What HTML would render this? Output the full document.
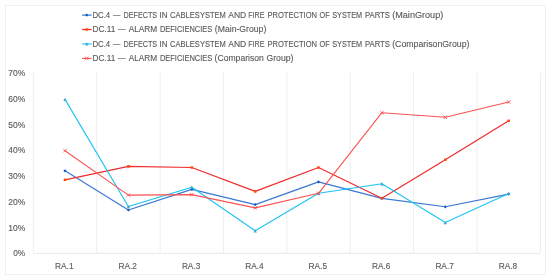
<!DOCTYPE html>
<html lang="en"><head><meta charset="utf-8"><title>Chart</title>
<style>
html,body{margin:0;padding:0;background:#fff;}
body{width:550px;height:279px;overflow:hidden;}
svg{display:block;}
text{font-family:"Liberation Sans",Arial,sans-serif;fill:#595959;stroke:#595959;stroke-width:0.12px;}
</style></head><body>
<svg width="550" height="279" viewBox="0 0 550 279">
<rect x="0" y="0" width="550" height="279" fill="#ffffff"/>
<rect x="5.5" y="5.5" width="540" height="269" fill="none" stroke="#F0F0F0" stroke-width="1"/>

<g stroke="#EEEEEE" stroke-width="1" fill="none">
<line x1="33.3" y1="72.4" x2="33.3" y2="253.4"/>
<line x1="96.7" y1="72.4" x2="96.7" y2="253.4"/>
<line x1="160.1" y1="72.4" x2="160.1" y2="253.4"/>
<line x1="223.5" y1="72.4" x2="223.5" y2="253.4"/>
<line x1="286.8" y1="72.4" x2="286.8" y2="253.4"/>
<line x1="350.2" y1="72.4" x2="350.2" y2="253.4"/>
<line x1="413.6" y1="72.4" x2="413.6" y2="253.4"/>
<line x1="477.0" y1="72.4" x2="477.0" y2="253.4"/>
<line x1="540.4" y1="72.4" x2="540.4" y2="253.4"/>
<line x1="33.3" y1="253.4" x2="540.4" y2="253.4" stroke="#EAEAEA"/>
</g>
<g font-size="8.9" text-anchor="end">
<text x="25.2" y="256" textLength="12.0" lengthAdjust="spacingAndGlyphs">0%</text>
<text x="25.2" y="231" textLength="17.0" lengthAdjust="spacingAndGlyphs">10%</text>
<text x="25.2" y="205" textLength="17.0" lengthAdjust="spacingAndGlyphs">20%</text>
<text x="25.2" y="179" textLength="17.0" lengthAdjust="spacingAndGlyphs">30%</text>
<text x="25.2" y="153" textLength="17.0" lengthAdjust="spacingAndGlyphs">40%</text>
<text x="25.2" y="128" textLength="17.0" lengthAdjust="spacingAndGlyphs">50%</text>
<text x="25.2" y="102" textLength="17.0" lengthAdjust="spacingAndGlyphs">60%</text>
<text x="25.2" y="76" textLength="17.0" lengthAdjust="spacingAndGlyphs">70%</text>
</g>
<g font-size="8.9" text-anchor="middle">
<text x="64.3" y="269" textLength="18.4" lengthAdjust="spacingAndGlyphs">RA.1</text>
<text x="127.7" y="269" textLength="18.4" lengthAdjust="spacingAndGlyphs">RA.2</text>
<text x="191.1" y="269" textLength="18.4" lengthAdjust="spacingAndGlyphs">RA.3</text>
<text x="254.5" y="269" textLength="18.4" lengthAdjust="spacingAndGlyphs">RA.4</text>
<text x="317.8" y="269" textLength="18.4" lengthAdjust="spacingAndGlyphs">RA.5</text>
<text x="381.2" y="269" textLength="18.4" lengthAdjust="spacingAndGlyphs">RA.6</text>
<text x="444.6" y="269" textLength="18.4" lengthAdjust="spacingAndGlyphs">RA.7</text>
<text x="508.0" y="269" textLength="18.4" lengthAdjust="spacingAndGlyphs">RA.8</text>
</g>
<polyline points="65.0,170.8 128.4,210.0 191.8,189.4 255.2,204.6 318.5,181.9 381.9,198.4 445.3,206.8 508.7,194.1" fill="none" stroke="#3A78D2" stroke-width="1.15" stroke-linejoin="round" stroke-linecap="round"/>
<polyline points="65.0,179.8 128.4,166.4 191.8,167.5 255.2,191.4 318.5,167.5 381.9,198.3 445.3,159.8 508.7,120.8" fill="none" stroke="#EE2C2C" stroke-width="1.25" stroke-linejoin="round" stroke-linecap="round"/>
<polyline points="65.0,99.4 128.4,206.5 191.8,187.2 255.2,230.7 318.5,193.3 381.9,183.7 445.3,222.6 508.7,193.4" fill="none" stroke="#1CC4F5" stroke-width="1.15" stroke-linejoin="round" stroke-linecap="round"/>
<polyline points="65.0,150.7 128.4,195.1 191.8,194.6 255.2,207.9 318.5,193.3 381.9,112.7 445.3,117.3 508.7,102.0" fill="none" stroke="#FB5252" stroke-width="1.1" stroke-linejoin="round" stroke-linecap="round"/>
<path d="M65.0 169.2L66.6 170.8L65.0 172.4L63.4 170.8Z" fill="#1259CC"/>
<path d="M128.4 208.4L130.0 210.0L128.4 211.6L126.8 210.0Z" fill="#1259CC"/>
<path d="M191.8 187.8L193.4 189.4L191.8 191.0L190.2 189.4Z" fill="#1259CC"/>
<path d="M255.2 203.0L256.8 204.6L255.2 206.2L253.6 204.6Z" fill="#1259CC"/>
<path d="M318.5 180.3L320.1 181.9L318.5 183.5L316.9 181.9Z" fill="#1259CC"/>
<path d="M381.9 196.8L383.5 198.4L381.9 200.0L380.3 198.4Z" fill="#1259CC"/>
<path d="M445.3 205.2L446.9 206.8L445.3 208.4L443.7 206.8Z" fill="#1259CC"/>
<path d="M508.7 192.5L510.3 194.1L508.7 195.7L507.1 194.1Z" fill="#1259CC"/>
<rect x="63.7" y="178.5" width="2.6" height="2.6" rx="0.5" fill="#FF4A10"/>
<rect x="127.1" y="165.1" width="2.6" height="2.6" rx="0.5" fill="#FF4A10"/>
<rect x="190.5" y="166.2" width="2.6" height="2.6" rx="0.5" fill="#FF4A10"/>
<rect x="253.9" y="190.1" width="2.6" height="2.6" rx="0.5" fill="#FF4A10"/>
<rect x="317.2" y="166.2" width="2.6" height="2.6" rx="0.5" fill="#FF4A10"/>
<rect x="380.6" y="197.0" width="2.6" height="2.6" rx="0.5" fill="#FF4A10"/>
<rect x="444.0" y="158.5" width="2.6" height="2.6" rx="0.5" fill="#FF4A10"/>
<rect x="507.4" y="119.5" width="2.6" height="2.6" rx="0.5" fill="#FF4A10"/>
<path d="M65.0 97.7L66.7 101.1L63.3 101.1Z" fill="#3FA9CF"/>
<path d="M128.4 204.8L130.1 208.2L126.7 208.2Z" fill="#3FA9CF"/>
<path d="M191.8 185.5L193.5 188.9L190.1 188.9Z" fill="#3FA9CF"/>
<path d="M255.2 229.0L256.9 232.4L253.5 232.4Z" fill="#3FA9CF"/>
<path d="M318.5 191.6L320.2 195.0L316.8 195.0Z" fill="#3FA9CF"/>
<path d="M381.9 182.0L383.6 185.4L380.2 185.4Z" fill="#3FA9CF"/>
<path d="M445.3 220.9L447.0 224.3L443.6 224.3Z" fill="#3FA9CF"/>
<path d="M508.7 191.7L510.4 195.1L507.0 195.1Z" fill="#3FA9CF"/>
<path d="M63.3 149.0L66.7 152.4M63.3 152.4L66.7 149.0" stroke="#FB5252" stroke-width="0.9" fill="none"/>
<path d="M126.7 193.4L130.1 196.8M126.7 196.8L130.1 193.4" stroke="#FB5252" stroke-width="0.9" fill="none"/>
<path d="M190.1 192.9L193.5 196.3M190.1 196.3L193.5 192.9" stroke="#FB5252" stroke-width="0.9" fill="none"/>
<path d="M253.5 206.2L256.9 209.6M253.5 209.6L256.9 206.2" stroke="#FB5252" stroke-width="0.9" fill="none"/>
<path d="M316.8 191.6L320.2 195.0M316.8 195.0L320.2 191.6" stroke="#FB5252" stroke-width="0.9" fill="none"/>
<path d="M380.2 111.0L383.6 114.4M380.2 114.4L383.6 111.0" stroke="#FB5252" stroke-width="0.9" fill="none"/>
<path d="M443.6 115.6L447.0 119.0M443.6 119.0L447.0 115.6" stroke="#FB5252" stroke-width="0.9" fill="none"/>
<path d="M507.0 100.3L510.4 103.7M507.0 103.7L510.4 100.3" stroke="#FB5252" stroke-width="0.9" fill="none"/>
<line x1="82" y1="15.1" x2="91.6" y2="15.1" stroke="#3A78D2" stroke-width="1.2"/>
<line x1="82" y1="29.5" x2="91.6" y2="29.5" stroke="#EE2C2C" stroke-width="1.25"/>
<line x1="82" y1="43.9" x2="91.6" y2="43.9" stroke="#1CC4F5" stroke-width="1.15"/>
<line x1="82" y1="58.4" x2="91.6" y2="58.4" stroke="#FB5252" stroke-width="1.1"/>
<path d="M86.8 13.5L88.4 15.1L86.8 16.7L85.2 15.1Z" fill="#1259CC"/>
<rect x="85.5" y="28.2" width="2.6" height="2.6" rx="0.5" fill="#FF4A10"/>
<path d="M86.8 42.2L88.5 45.6L85.1 45.6Z" fill="#3FA9CF"/>
<path d="M85.1 56.7L88.5 60.1M85.1 60.1L88.5 56.7" stroke="#FB5252" stroke-width="0.9" fill="none"/>
<g font-size="8.6">
<text y="17.8"><tspan x="92.4" textLength="17.8" lengthAdjust="spacingAndGlyphs">DC.4</tspan> <tspan x="113.1" textLength="7.4" lengthAdjust="spacingAndGlyphs">—</tspan> <tspan x="123.6" textLength="33.5" lengthAdjust="spacingAndGlyphs">DEFECTS</tspan> <tspan x="159.5" textLength="8.1" lengthAdjust="spacingAndGlyphs">IN</tspan> <tspan x="170.1" textLength="55.8" lengthAdjust="spacingAndGlyphs">CABLESYSTEM</tspan> <tspan x="228.3" textLength="17.9" lengthAdjust="spacingAndGlyphs">AND</tspan> <tspan x="248.3" textLength="16.1" lengthAdjust="spacingAndGlyphs">FIRE</tspan> <tspan x="267.4" textLength="49.7" lengthAdjust="spacingAndGlyphs">PROTECTION</tspan> <tspan x="319.6" textLength="10.1" lengthAdjust="spacingAndGlyphs">OF</tspan> <tspan x="332.2" textLength="30.0" lengthAdjust="spacingAndGlyphs">SYSTEM</tspan> <tspan x="365.0" textLength="24.9" lengthAdjust="spacingAndGlyphs">PARTS</tspan> <tspan x="392.2" textLength="51.1" lengthAdjust="spacingAndGlyphs">(MainGroup)</tspan></text>
<text y="32.3"><tspan x="92.4" textLength="22.9" lengthAdjust="spacingAndGlyphs">DC.11</tspan> <tspan x="118.0" textLength="7.6" lengthAdjust="spacingAndGlyphs">—</tspan> <tspan x="128.7" textLength="28.4" lengthAdjust="spacingAndGlyphs">ALARM</tspan> <tspan x="159.9" textLength="52.4" lengthAdjust="spacingAndGlyphs">DEFICIENCIES</tspan> <tspan x="214.8" textLength="51.5" lengthAdjust="spacingAndGlyphs">(Main-Group)</tspan></text>
<text y="46.8"><tspan x="92.4" textLength="17.8" lengthAdjust="spacingAndGlyphs">DC.4</tspan> <tspan x="113.1" textLength="7.4" lengthAdjust="spacingAndGlyphs">—</tspan> <tspan x="123.6" textLength="33.5" lengthAdjust="spacingAndGlyphs">DEFECTS</tspan> <tspan x="159.5" textLength="8.1" lengthAdjust="spacingAndGlyphs">IN</tspan> <tspan x="170.1" textLength="55.8" lengthAdjust="spacingAndGlyphs">CABLESYSTEM</tspan> <tspan x="228.3" textLength="17.9" lengthAdjust="spacingAndGlyphs">AND</tspan> <tspan x="248.3" textLength="16.1" lengthAdjust="spacingAndGlyphs">FIRE</tspan> <tspan x="267.4" textLength="49.7" lengthAdjust="spacingAndGlyphs">PROTECTION</tspan> <tspan x="319.6" textLength="10.1" lengthAdjust="spacingAndGlyphs">OF</tspan> <tspan x="332.2" textLength="30.0" lengthAdjust="spacingAndGlyphs">SYSTEM</tspan> <tspan x="365.0" textLength="24.9" lengthAdjust="spacingAndGlyphs">PARTS</tspan> <tspan x="392.2" textLength="77.3" lengthAdjust="spacingAndGlyphs">(ComparisonGroup)</tspan></text>
<text y="61.3"><tspan x="92.4" textLength="22.9" lengthAdjust="spacingAndGlyphs">DC.11</tspan> <tspan x="118.0" textLength="7.6" lengthAdjust="spacingAndGlyphs">—</tspan> <tspan x="128.7" textLength="28.4" lengthAdjust="spacingAndGlyphs">ALARM</tspan> <tspan x="159.9" textLength="52.4" lengthAdjust="spacingAndGlyphs">DEFICIENCIES</tspan> <tspan x="214.6" textLength="49.2" lengthAdjust="spacingAndGlyphs">(Comparison</tspan> <tspan x="266.5" textLength="26.9" lengthAdjust="spacingAndGlyphs">Group)</tspan></text>
</g>
</svg></body></html>
